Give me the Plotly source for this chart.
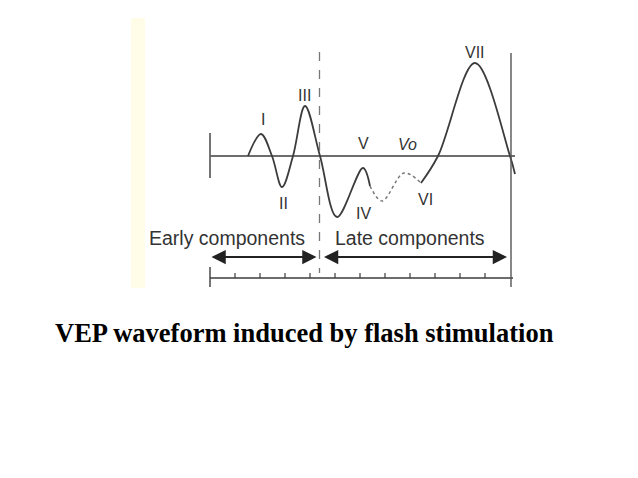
import plotly.graph_objects as go

# VEP waveform (time in ms from stimulus, amplitude in arbitrary units, + = up)
wave_t_early = [38, 51, 62, 72, 83, 95, 110, 127, 153, 160]
wave_a_early = [0, 22, 0, -31, 0, 50, 0, -61, -12, -30]
wave_t_dotted = [160, 172, 194, 211]
wave_a_dotted = [-30, -45, -17, -27]
wave_t_late = [211, 228, 265, 300, 305]
wave_a_late = [-27, 0, 93, 0, -18]

peak_names = ["I", "II", "III", "IV", "V", "Vo", "VI", "VII"]
peak_label_t = [53, 73, 94, 153, 153, 197, 215, 265]
peak_label_a = [37, -47, 61, -57, 13, 12, -43, 104]

tick_times = [0, 25, 50, 75, 100, 125, 150, 175, 200, 225, 250, 275, 300]
boundary_t = 109.5
sweep_end = 301

GRAY = "#3c3c3c"
TEXT = "#333333"

fig = go.Figure()

# cream strip from the source image
fig.add_shape(type="rect", x0=-79, x1=-65, y0=-132, y1=138, fillcolor="#fffce8", line_width=0, layer="below")

# baseline and sweep markers
fig.add_shape(type="line", x0=0, x1=305, y0=0, y1=0, line=dict(color=GRAY, width=1.4))
fig.add_shape(type="line", x0=0, x1=0, y0=23, y1=-22, line=dict(color="#666666", width=1.8))
fig.add_shape(type="line", x0=sweep_end, x1=sweep_end, y0=103, y1=-131, line=dict(color="#555555", width=1.4))
fig.add_shape(type="line", x0=boundary_t, x1=boundary_t, y0=104, y1=-117,
              line=dict(color="#777777", width=1.3, dash="dash"))

# waveform
fig.add_trace(go.Scatter(x=wave_t_early, y=wave_a_early, mode="lines",
                         line=dict(color=GRAY, width=1.8, shape="spline", smoothing=1.0), hoverinfo="skip"))
fig.add_trace(go.Scatter(x=wave_t_dotted, y=wave_a_dotted, mode="lines",
                         line=dict(color="#777777", width=1.5, shape="spline", smoothing=1.0, dash="dot"),
                         hoverinfo="skip"))
fig.add_trace(go.Scatter(x=wave_t_late, y=wave_a_late, mode="lines",
                         line=dict(color=GRAY, width=1.8, shape="spline", smoothing=1.0), hoverinfo="skip"))

# time axis with ticks
tick_x, tick_y = [], []
for t in tick_times[1:-1]:
    tick_x += [t, t, None]
    tick_y += [-122, -117, None]
fig.add_trace(go.Scatter(x=[tick_times[0], tick_times[-1] + 3], y=[-122, -122], mode="lines",
                         line=dict(color=GRAY, width=1.4), hoverinfo="skip"))
fig.add_trace(go.Scatter(x=tick_x, y=tick_y, mode="lines", line=dict(color=GRAY, width=1.2), hoverinfo="skip"))
fig.add_shape(type="line", x0=tick_times[0], x1=tick_times[0], y0=-111, y1=-131, line=dict(color=GRAY, width=1.4))

# peak labels
for name, t, a in zip(peak_names, peak_label_t, peak_label_a):
    fig.add_annotation(x=t, y=a, text=f"<i>{name}</i>" if name == "Vo" else name, showarrow=False,
                       font=dict(family="Liberation Sans, Arial", size=16, color=TEXT))

# component arrows
for x0, x1 in [(0, boundary_t - 3), (boundary_t + 3, sweep_end - 4)]:
    fig.add_annotation(x=x1, y=-101, ax=x0, ay=-101, xref="x", yref="y", axref="x", ayref="y", text="",
                       showarrow=True, arrowhead=2, arrowside="end+start", arrowsize=1.5, arrowwidth=1.9,
                       arrowcolor="#222222", standoff=0, startstandoff=0)
fig.add_annotation(x=16.5, y=-82, text="Early components", showarrow=False,
                   font=dict(family="Liberation Sans, Arial", size=19.5, color=TEXT))
fig.add_annotation(x=200, y=-82, text="Late components", showarrow=False,
                   font=dict(family="Liberation Sans, Arial", size=19.5, color=TEXT))

fig.add_annotation(x=94, y=-177, text="<b>VEP waveform induced by flash stimulation</b>", showarrow=False,
                   font=dict(family="Liberation Serif, Times New Roman, serif", size=26.5, color="black"))

# page body has an 8px margin, so the figure is 8px smaller and the ranges are offset
fig.update_layout(
    width=630,
    height=470,
    margin=dict(l=0, r=0, t=0, b=0),
    paper_bgcolor="white",
    plot_bgcolor="white",
    showlegend=False,
    xaxis=dict(range=[-202, 428], visible=False, fixedrange=True),
    yaxis=dict(range=[-322, 148], visible=False, fixedrange=True),
)

fig.write_html("out.html")
